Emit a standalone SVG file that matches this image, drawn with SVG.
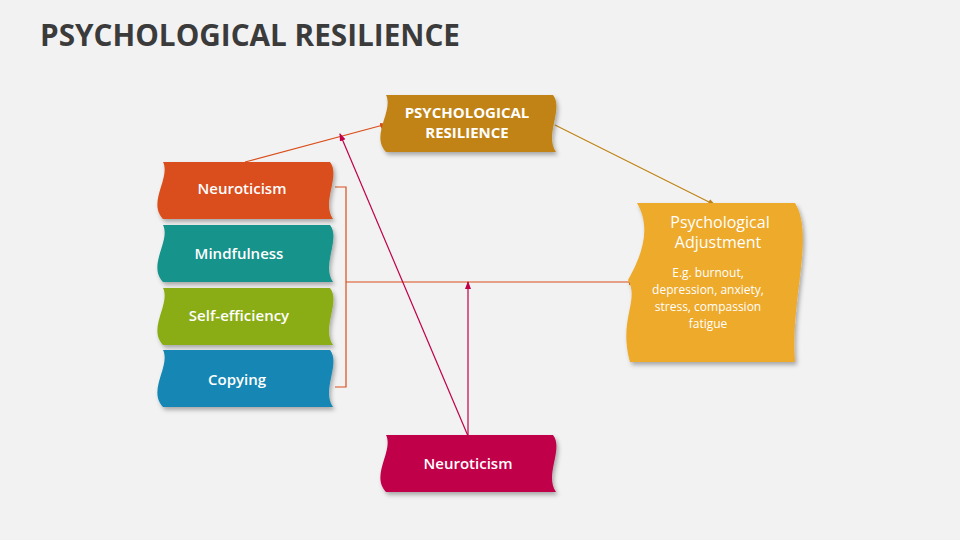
<svg xmlns="http://www.w3.org/2000/svg" width="960" height="540" viewBox="0 0 960 540">
<defs>
<filter id="sh" x="-10%" y="-10%" width="130%" height="130%"><feDropShadow dx="2" dy="3" stdDeviation="2" flood-opacity="0.3"/></filter>
<marker id="ao" markerWidth="8" markerHeight="8" refX="7" refY="4" orient="auto" markerUnits="userSpaceOnUse"><path d="M0,1 L8,4 L0,7 Z" fill="#DA4E1A"/></marker>
<marker id="ac" markerWidth="8" markerHeight="8" refX="7" refY="4" orient="auto" markerUnits="userSpaceOnUse"><path d="M0,1 L8,4 L0,7 Z" fill="#C00048"/></marker>
<marker id="ab" markerWidth="8" markerHeight="8" refX="7" refY="4" orient="auto" markerUnits="userSpaceOnUse"><path d="M0,1 L8,4 L0,7 Z" fill="#C18312"/></marker>
<path id="ban" d="M8,0 L175,0 C186,14 166,40 178,57 L8,57 C-8,40 16,16 8,0 Z"/>
</defs>
<style>
.t{font-family:"Open Sans","Liberation Sans",sans-serif;fill:#fff;text-anchor:middle}
.l{font-size:15px;font-weight:600}
</style>
<rect width="960" height="540" fill="#F2F2F2"/>
<text x="40" y="46" font-family="Open Sans,Liberation Sans,sans-serif" font-weight="700" font-size="30" fill="#3B3B3B" textLength="420" lengthAdjust="spacingAndGlyphs">PSYCHOLOGICAL RESILIENCE</text>
<g id="connectors" fill="none" stroke-width="1.2">
<line x1="245" y1="162" x2="387" y2="124" stroke="#DA4E1A" marker-end="url(#ao)"/>
<polyline points="335,187 346,187 346,387 335,387" stroke="#DA4E1A"/>
<line x1="346" y1="282" x2="636" y2="282" stroke="#DA4E1A" marker-end="url(#ao)"/>
<line x1="468" y1="436" x2="340" y2="134" stroke="#C00048" marker-end="url(#ac)"/>
<line x1="468" y1="436" x2="468" y2="282" stroke="#C00048" marker-end="url(#ac)"/>
<line x1="555" y1="125" x2="715" y2="205" stroke="#C18312" marker-end="url(#ab)"/>
</g>
<g id="n1"><use href="#ban" x="155" y="162" fill="#DA4E1A" filter="url(#sh)"/><text class="t l" x="242" y="194">Neuroticism</text></g>
<g id="n2"><use href="#ban" x="155" y="225" fill="#12938A" filter="url(#sh)"/><text class="t l" x="239" y="259">Mindfulness</text></g>
<g id="n3"><use href="#ban" x="155" y="288" fill="#8AAD13" filter="url(#sh)"/><text class="t l" x="239" y="321">Self-efficiency</text></g>
<g id="n4"><use href="#ban" x="155" y="350" fill="#1387B4" filter="url(#sh)"/><text class="t l" x="237" y="385">Copying</text></g>
<g id="res"><use href="#ban" x="378" y="95" fill="#C18312" filter="url(#sh)"/><text class="t" font-size="15" font-weight="700"><tspan x="467" y="118">PSYCHOLOGICAL</tspan><tspan x="467" y="138">RESILIENCE</tspan></text></g>
<g id="neu2"><use href="#ban" x="378" y="435" fill="#C00048" filter="url(#sh)"/><text class="t l" x="468" y="469">Neuroticism</text></g>
<g id="adj"><path d="M637,203 L795,203 C815,235 790,300 795,362 L630,362 C618,320 640,300 628,280 C645,250 650,225 637,203 Z" fill="#EEAA2B" filter="url(#sh)"/>
<text class="t" font-size="16"><tspan x="720" y="228">Psychological</tspan><tspan x="718" y="248">Adjustment</tspan></text>
<text class="t" font-size="12"><tspan x="708" y="277">E.g. burnout,</tspan><tspan x="708" y="294">depression, anxiety,</tspan><tspan x="708" y="311">stress, compassion</tspan><tspan x="708" y="328">fatigue</tspan></text></g>
</svg>
